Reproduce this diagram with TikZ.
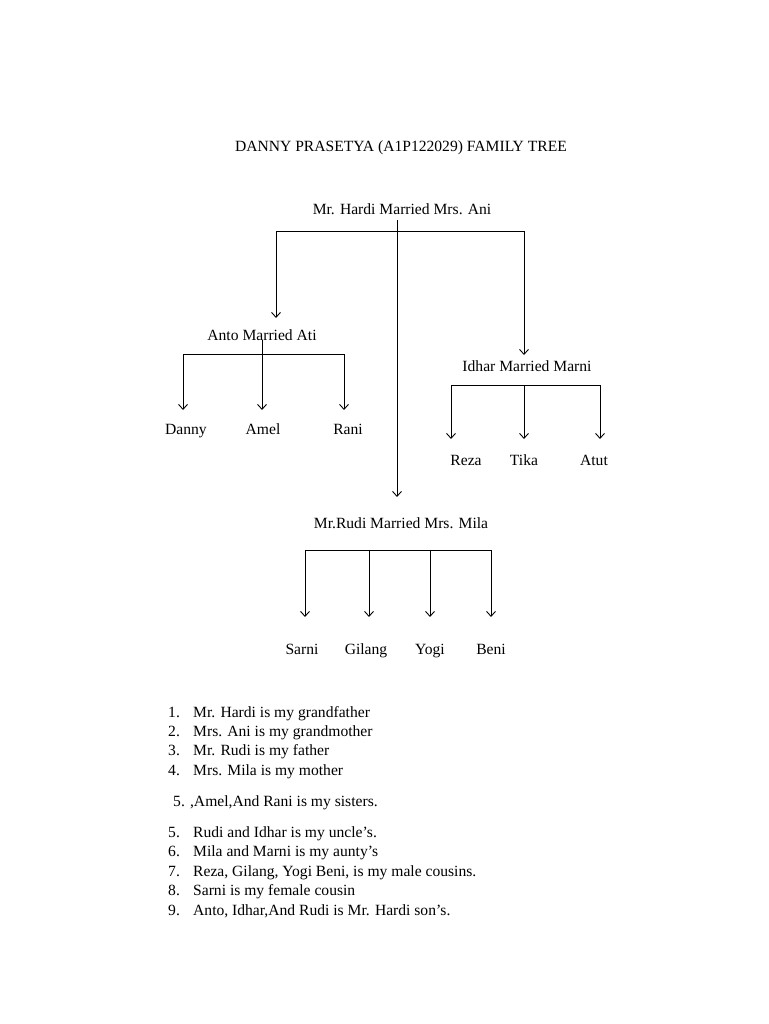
\documentclass[tikz,border=0pt]{standalone}
\usepackage{fontspec}
\setmainfont{Liberation Serif}
\usetikzlibrary{arrows.meta}

\begin{document}
\begin{tikzpicture}[x=1pt,y=-1pt,
    arr/.style={-{Straight Barb[length=5pt,width=9pt]},line width=.9pt},
    bar/.style={line width=.9pt}]

        \useasboundingbox (0,0) rectangle (768,1024);

        \begin{scope}[every node/.style={inner sep=0pt,text height=10.5pt,text depth=3.5pt,
            font=\fontsize{15.6}{18}\selectfont}]
          \node (title)  at (401,148) {DANNY PRASETYA (A1P122029) FAMILY TREE};
          \node (hardi)  at (402,211) {Mr. Hardi Married Mrs. Ani};
          \node (anto)   at (262,337) {Anto Married Ati};
          \node (idhar)  at (527,368) {Idhar Married Marni};
          \node (rudi)   at (401,525) {Mr.Rudi Married Mrs. Mila};
          \node (danny)  at (186,431) {Danny};
          \node (amel)   at (263,431) {Amel};
          \node (rani)   at (348,431) {Rani};
          \node (reza)   at (466,462) {Reza};
          \node (tika)   at (524,462) {Tika};
          \node (atut)   at (594,462) {Atut};
          \node (sarni)  at (302,651) {Sarni};
          \node (gilang) at (366,651) {Gilang};
          \node (yogi)   at (430,651) {Yogi};
          \node (beni)   at (491,651) {Beni};
        \end{scope}

        % bars and arrow tips
        \coordinate (h1) at (276,231);
        \coordinate (h2) at (524,231);
        \coordinate (hm) at (397,220);
        \coordinate (a1) at (183,354);
        \coordinate (a2) at (344,354);
        \coordinate (am) at (262,340);
        \coordinate (i1) at (451,385);
        \coordinate (i2) at (600,385);
        \coordinate (im) at (524,385);
        \coordinate (r1) at (305,550);
        \coordinate (r2) at (491,550);
        \coordinate (r3) at (369,550);
        \coordinate (r4) at (430,550);

        \draw[bar] (h1) -- (h2);
        \draw[bar] (a1) -- (a2);
        \draw[bar] (i1) -- (i2);
        \draw[bar] (r1) -- (r2);

        \draw[arr] (h1) -- (276,318);
        \draw[arr] (h2) -- (524,355);
        \draw[arr] (hm) -- (397,497);
        \draw[arr] (a1) -- (183,410);
        \draw[arr] (am) -- (262,410);
        \draw[arr] (a2) -- (344,410);
        \draw[arr] (i1) -- (451,439);
        \draw[arr] (im) -- (524,439);
        \draw[arr] (i2) -- (600,439);
        \draw[arr] (r1) -- (305,617);
        \draw[arr] (r3) -- (369,617);
        \draw[arr] (r4) -- (430,617);
        \draw[arr] (r2) -- (491,617);

        \begin{scope}[every node/.style={anchor=base west,inner sep=0pt,font=\fontsize{15.6}{18}\selectfont}]
          \node (n1) at (168,717) {1.};
          \node (n2) at (168,736) {2.};
          \node (n3) at (168,755) {3.};
          \node (n4) at (168,775) {4.};
          \node (n6) at (168,837) {5.};
          \node (n7) at (168,856) {6.};
          \node (n8) at (168,876) {7.};
          \node (n9) at (168,895) {8.};
          \node (n10) at (168,915) {9.};
          \node (l1) at (193,717) {Mr. Hardi is my grandfather};
          \node (l2) at (193,736) {Mrs. Ani is my grandmother};
          \node (l3) at (193,755) {Mr. Rudi is my father};
          \node (l4) at (193,775) {Mrs. Mila is my mother};
          \node (l5) at (173,806) {5. ,Amel,And Rani is my sisters.};
          \node (l6) at (193,837) {Rudi and Idhar is my uncle’s.};
          \node (l7) at (193,856) {Mila and Marni is my aunty’s};
          \node (l8) at (193,876) {Reza, Gilang, Yogi Beni, is my male cousins.};
          \node (l9) at (193,895) {Sarni is my female cousin};
          \node (l10) at (193,915) {Anto, Idhar,And Rudi is Mr. Hardi son’s.};
        \end{scope}

      \end{tikzpicture}
\end{document}
